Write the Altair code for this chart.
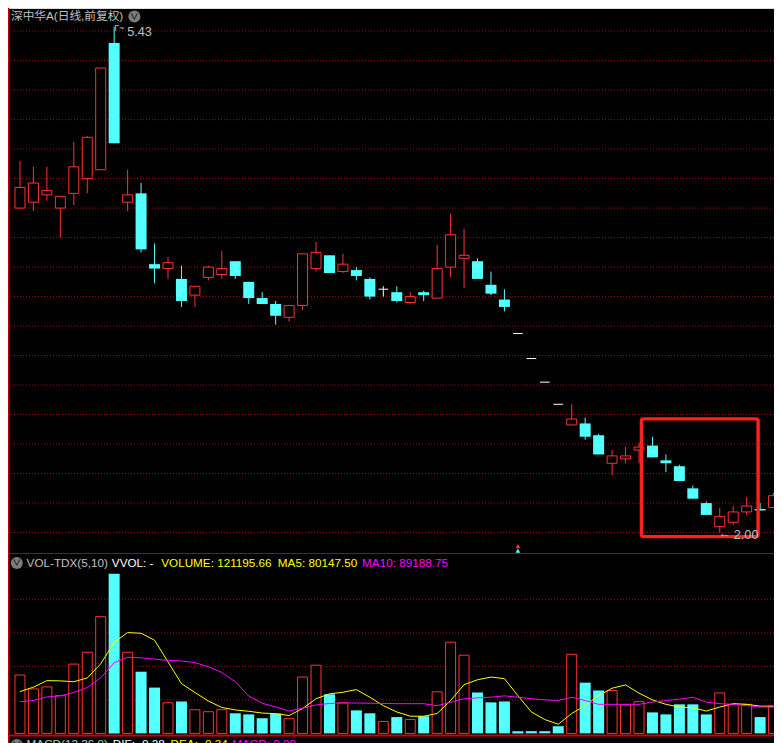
import altair as alt
import pandas as pd

# reference picture is 782x743; the page keeps an 8px margin, so the chart is
# drawn at 766x735 and every layout position is scaled from the reference.
REF_W, REF_H = 782, 743
W, H = 766, 735
SX, SY = W / REF_W, H / REF_H


def px(x):
    return x * SX


def py(y):
    return y * SY


FONT = "Liberation Sans, Noto Sans CJK SC, sans-serif"
RED = "#ff3232"
CYAN = "#54ffff"
GRID = "#a80000"
GREY = "#c0c0c0"
FS = 11.7

# ---------------- data ----------------
opens = [4.20, 4.24, 4.29, 4.20, 4.30, 4.40, 4.46, 5.32, 4.24, 4.30,
         3.82, 3.79, 3.72, 3.61, 3.73, 3.75, 3.84, 3.70, 3.59, 3.55,
         3.46, 3.54, 3.79, 3.88, 3.77, 3.78, 3.72, 3.65, 3.63, 3.56,
         3.63, 3.59, 3.80, 3.86, 3.84, 3.68, 3.58, 3.35, 3.18, 3.02,
         2.87, 2.73, 2.74, 2.66, 2.47, 2.50, 2.56, 2.59, 2.49, 2.45,
         2.30, 2.20, 2.04, 2.07, 2.14, 2.16, 2.17]
highs = [4.52, 4.48, 4.48, 4.28, 4.65, 4.69, 5.15, 5.43, 4.46, 4.37,
         3.96, 3.87, 3.81, 3.67, 3.81, 3.91, 3.84, 3.70, 3.63, 3.57,
         3.54, 3.89, 3.97, 3.88, 3.89, 3.80, 3.73, 3.67, 3.67, 3.63,
         3.64, 3.95, 4.16, 4.06, 3.86, 3.77, 3.65, 3.35, 3.18, 3.02,
         2.87, 2.87, 2.78, 2.67, 2.56, 2.58, 2.61, 2.65, 2.53, 2.46,
         2.32, 2.21, 2.17, 2.18, 2.24, 2.20, 2.27]
lows = [4.20, 4.18, 4.25, 4.00, 4.22, 4.30, 4.46, 4.64, 4.18, 3.90,
        3.69, 3.72, 3.53, 3.53, 3.71, 3.72, 3.72, 3.55, 3.55, 3.41,
        3.43, 3.51, 3.77, 3.76, 3.76, 3.71, 3.58, 3.60, 3.56, 3.55,
        3.57, 3.59, 3.73, 3.66, 3.72, 3.61, 3.50, 3.35, 3.18, 3.02,
        2.87, 2.73, 2.63, 2.53, 2.39, 2.47, 2.47, 2.51, 2.41, 2.35,
        2.23, 2.12, 2.00, 2.05, 2.12, 2.15, 2.17]
closes = [4.34, 4.37, 4.32, 4.28, 4.48, 4.68, 5.15, 4.64, 4.29, 3.92,
          3.79, 3.83, 3.57, 3.67, 3.80, 3.79, 3.74, 3.59, 3.55, 3.47,
          3.54, 3.89, 3.90, 3.76, 3.82, 3.74, 3.60, 3.65, 3.57, 3.60,
          3.61, 3.79, 4.02, 3.88, 3.72, 3.62, 3.53, 3.35, 3.18, 3.02,
          2.87, 2.77, 2.65, 2.53, 2.52, 2.52, 2.58, 2.51, 2.47, 2.35,
          2.23, 2.12, 2.11, 2.14, 2.18, 2.15, 2.25]
volumes = [261000, 199000, 208000, 169000, 310000, 363000, 522000, 714000, 363000, 276000,
           205000, 137000, 143000, 106000, 97000, 106000, 90000, 85000, 68000, 89000,
           66000, 252000, 305000, 175000, 137000, 103000, 90000, 53000, 73000, 62000,
           77000, 186000, 408000, 350000, 183000, 139000, 143000, 10000, 10000, 10000,
           32000, 354000, 227000, 192000, 192000, 127000, 142000, 94000, 85000, 130000,
           130000, 85000, 181000, 130000, 130000, 73000, 121196]
# u = red (up) volume bar, d = cyan (down) volume bar
vol_dir = list("uuuuuuudud" + "duduuudddd" + "uuududdudu" + "duuudddddd"
               + "dudduuuddd" + "dduuudu")
ma5 = [187, 207, 236, 235, 231, 248, 311, 408, 451, 448,
       417, 320, 223, 183, 145, 116, 105, 99, 91, 88,
       80, 111, 155, 177, 184, 196, 162, 124, 96, 77,
       77, 89, 147, 218, 240, 252, 245, 169, 96, 62,
       41, 89, 125, 169, 202, 217, 180, 150, 130, 118,
       115, 100, 118, 133, 130, 122, 122]
ma10 = [142, 147, 163, 168, 183, 205, 249, 316, 341, 338,
        332, 327, 324, 317, 298, 273, 231, 167, 135, 118,
        100, 113, 127, 134, 136, 136, 135, 134, 133, 133,
        133, 124, 139, 155, 159, 162, 168, 162, 155, 150,
        147, 162, 147, 130, 130, 130, 130, 140, 147, 153,
        162, 140, 133, 130, 124, 118, 118]
price_grid = [2.0, 2.2, 2.4, 2.6, 2.8, 3.0, 3.2, 3.4, 3.6, 3.8,
              4.0, 4.2, 4.4, 4.6, 4.8, 5.0, 5.2, 5.4]
vol_grid = [150000, 300000, 450000, 600000]
# highlighted zone (candle index range, price range)
zone_i = [46.18, 54.85]
zone_p = [1.973, 2.771]

title_text = "深中华A(日线,前复权)"
vol_texts = ["VOL-TDX(5,10)", "VVOL: -", "VOLUME: 121195.66", "MA5: 80147.50", "MA10: 89188.75"]
macd_texts = ["MACD(12,26,9)", "DIF: -0.28", "DEA: -0.34", "MACD: 0.08"]

# ---------------- frames ----------------
n = len(opens)
df = pd.DataFrame({
    "i": list(range(n)), "o": opens, "h": highs, "l": lows, "c": closes,
    "v": volumes, "vd": vol_dir,
    "ma5": [m * 1000 for m in ma5], "ma10": [m * 1000 for m in ma10],
})
df["kind"] = ["up" if c > o else ("down" if c < o else "flat") for o, c in zip(opens, closes)]
df["zero"] = 0

xs = alt.Scale(domain=[-0.517, 55.66], range=[0, W], nice=False, zero=False)
ps = alt.Scale(domain=[1.8545, 5.5567], range=[py(552), 0], nice=False, zero=False)
vs = alt.Scale(domain=[-7522, 802253], range=[py(735), py(552)], nice=False, zero=False)

X = alt.X("i:Q", scale=xs, axis=None)


def PY(f):
    return alt.Y(f, scale=ps, axis=None)


def VY(f):
    return alt.Y(f, scale=vs, axis=None)


base = alt.Chart(df)
up = base.transform_filter("datum.kind == 'up'")
dn = base.transform_filter("datum.kind == 'down'")
fl = base.transform_filter("datum.kind == 'flat'").transform_calculate(
    xa="datum.i - 0.36", xb="datum.i + 0.36")

layers = []
layers.append(alt.Chart(pd.DataFrame({"p": price_grid})).mark_rule(
    color=GRID, strokeDash=[1, 2], strokeWidth=1).encode(y=PY("p:Q")))
layers.append(alt.Chart(pd.DataFrame({"v": vol_grid})).mark_rule(
    color=GRID, strokeDash=[1, 2], strokeWidth=1).encode(y=VY("v:Q")))

# candles
layers.append(up.mark_rule(color=RED, strokeWidth=1).encode(x=X, y=PY("l:Q"), y2="h:Q"))
layers.append(up.mark_bar(size=10, fill="black", stroke=RED, strokeWidth=1).encode(
    x=X, y=PY("o:Q"), y2="c:Q"))
layers.append(dn.mark_rule(color=CYAN, strokeWidth=1).encode(x=X, y=PY("l:Q"), y2="h:Q"))
layers.append(dn.mark_bar(size=11, color=CYAN).encode(x=X, y=PY("o:Q"), y2="c:Q"))
layers.append(fl.mark_rule(color="white", strokeWidth=1).encode(x=X, y=PY("l:Q"), y2="h:Q"))
layers.append(fl.mark_rule(color="white", strokeWidth=1).encode(
    x=alt.X("xa:Q", scale=xs, axis=None), x2="xb:Q", y=PY("c:Q")))

# volume
layers.append(base.transform_filter("datum.vd == 'u'").mark_bar(
    size=10, fill="black", stroke=RED, strokeWidth=1).encode(x=X, y=VY("v:Q"), y2="zero:Q"))
layers.append(base.transform_filter("datum.vd == 'd'").mark_bar(
    size=11, color=CYAN).encode(x=X, y=VY("v:Q"), y2="zero:Q"))
layers.append(base.mark_line(color="#ffff00", strokeWidth=1).encode(x=X, y=VY("ma5:Q")))
layers.append(base.mark_line(color="#ff00ff", strokeWidth=1).encode(x=X, y=VY("ma10:Q")))

# highlight zone
layers.append(alt.Chart(pd.DataFrame({"i0": [zone_i[0]], "i1": [zone_i[1]],
                                      "p0": [zone_p[0]], "p1": [zone_p[1]]})).mark_rect(
    filled=False, fillOpacity=0, stroke="#ff2020", strokeWidth=3.4, cornerRadius=2).encode(
    x=alt.X("i0:Q", scale=xs, axis=None), x2="i1:Q", y=PY("p0:Q"), y2="p1:Q"))

# extreme labels
hi_i = highs.index(max(highs))
lo_i = lows.index(min(lows))
hi_df = pd.DataFrame({"i": [hi_i], "p": [highs[hi_i]], "t": [f"{highs[hi_i]:.2f}"]})
lo_df = pd.DataFrame({"i": [lo_i], "p": [lows[lo_i]], "t": [f"{lows[lo_i]:.2f}"]})
layers.append(alt.Chart(hi_df).mark_text(align="left", baseline="middle", dx=0, dy=1.5,
                                         fontSize=9, color=GREY, font=FONT, text="Γ~").encode(
    x=X, y=PY("p:Q")))
layers.append(alt.Chart(hi_df).mark_text(align="left", baseline="middle", dx=13, dy=5,
                                         fontSize=12.7, color=GREY, font=FONT).encode(
    x=X, y=PY("p:Q"), text="t:N"))
layers.append(alt.Chart(lo_df).mark_text(align="left", baseline="middle", dx=-1, dy=0,
                                         fontSize=12, color=GREY, font=FONT, text="←").encode(
    x=X, y=PY("p:Q")))
layers.append(alt.Chart(lo_df).mark_text(align="left", baseline="middle", dx=14, dy=2,
                                         fontSize=12.7, color=GREY, font=FONT).encode(
    x=X, y=PY("p:Q"), text="t:N"))

# small marker at the bottom of the price panel
mk = alt.Chart(pd.DataFrame({"i": [37]}))
layers.append(mk.mark_point(shape="triangle-up", filled=True, color=RED, size=22, opacity=1).encode(
    x=X, y=alt.value(py(544))))
layers.append(mk.mark_point(shape="triangle-up", filled=True, color=CYAN, size=22, opacity=1).encode(
    x=X, y=alt.value(py(548.5))))

# frame lines
one = pd.DataFrame({"a": [0]})
layers.append(alt.Chart(one).mark_rule(color="#b40000", strokeWidth=1).encode(
    x=alt.value(0), x2=alt.value(W), y=alt.value(py(551.5))))
layers.append(alt.Chart(one).mark_rule(color="#d00000", strokeWidth=2).encode(
    x=alt.value(0), x2=alt.value(W), y=alt.value(py(735.5))))
layers.append(alt.Chart(one).mark_rule(color="#b40000", strokeWidth=1.5).encode(
    x=alt.value(0.75), y=alt.value(0), y2=alt.value(H)))


def label(text, x, y, color, size=FS):
    return alt.Chart(pd.DataFrame({"t": [text]})).mark_text(
        align="left", baseline="middle", color=color, fontSize=size, font=FONT).encode(
        x=alt.value(px(x)), y=alt.value(py(y)), text="t:N")


def icon(x, y):
    c = alt.Chart(one)
    return [c.mark_point(shape="circle", filled=True, color="#7c7c7c", size=145, opacity=1).encode(
                x=alt.value(px(x)), y=alt.value(py(y))),
            c.mark_text(text="∨", color="#202020", fontSize=9, fontWeight="bold", font=FONT,
                        baseline="middle").encode(x=alt.value(px(x)), y=alt.value(py(y) + 0.5))]


layers.append(label(title_text, 3, 8.5, GREY))
layers += icon(129, 8.5)
layers += icon(9, 561)
layers.append(label(vol_texts[0], 19, 561, GREY))
layers.append(label(vol_texts[1], 106, 561, "#ffffff"))
layers.append(label(vol_texts[2], 156.5, 561, "#ffff00"))
layers.append(label(vol_texts[3], 275.5, 561, "#ffff00"))
layers.append(label(vol_texts[4], 361.5, 561, "#ff00ff"))
layers += icon(9, 745)
layers.append(label(macd_texts[0], 19, 744, GREY))
layers.append(label(macd_texts[1], 107, 744, "#ffffff"))
layers.append(label(macd_texts[2], 166, 744, "#ffff00"))
layers.append(label(macd_texts[3], 229, 744, "#ff00ff"))

chart = alt.layer(*layers).resolve_scale(y="independent").properties(
    width=W, height=H, padding=0,
    autosize=alt.AutoSizeParams(type="none"),
).configure_view(strokeWidth=0).configure(background="black")

chart.save("out.html", embed_options={"renderer": "svg", "actions": False})
